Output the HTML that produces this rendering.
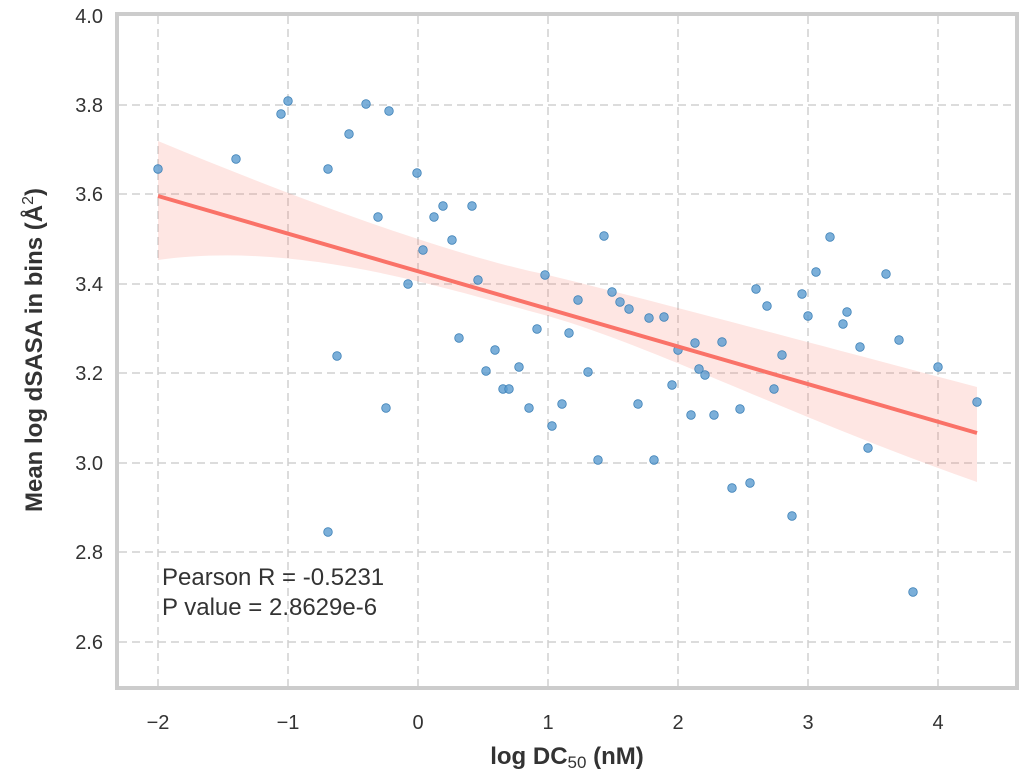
<!DOCTYPE html>
<html><head><meta charset="utf-8"><style>body{margin:0;background:#fff}svg{display:block}text{font-family:"Liberation Sans","DejaVu Sans",sans-serif}</style></head>
<body>
<svg width="1024" height="776" viewBox="0 0 1024 776">
<rect x="0" y="0" width="1024" height="776" fill="#fff"/>
<g stroke="#d0d0d0" stroke-width="1.5" stroke-dasharray="8,5">
<line x1="158" y1="16" x2="158" y2="686"/><line x1="288" y1="16" x2="288" y2="686"/><line x1="418" y1="16" x2="418" y2="686"/><line x1="548" y1="16" x2="548" y2="686"/><line x1="678" y1="16" x2="678" y2="686"/><line x1="808" y1="16" x2="808" y2="686"/><line x1="938" y1="16" x2="938" y2="686"/>
<line x1="119" y1="105" x2="1015" y2="105"/><line x1="119" y1="194" x2="1015" y2="194"/><line x1="119" y1="284" x2="1015" y2="284"/><line x1="119" y1="373" x2="1015" y2="373"/><line x1="119" y1="463" x2="1015" y2="463"/><line x1="119" y1="552" x2="1015" y2="552"/><line x1="119" y1="642" x2="1015" y2="642"/>
</g>
<path d="M158,141 C300,200 450,255 548,275 C650,300 800,340 977,387 L977,482 C800,420 650,345 548,316 C450,290 300,240 158,260 Z" fill="#fa8072" fill-opacity="0.2"/>
<g fill="#5a9bcf" fill-opacity="0.8" stroke="#3f82b8" stroke-width="0.8">
<circle cx="158" cy="169" r="4.3"/><circle cx="236" cy="159" r="4.3"/><circle cx="281" cy="114" r="4.3"/><circle cx="288" cy="101" r="4.3"/><circle cx="328" cy="169" r="4.3"/><circle cx="328" cy="532" r="4.3"/><circle cx="337" cy="356" r="4.3"/><circle cx="349" cy="134" r="4.3"/><circle cx="366" cy="104" r="4.3"/><circle cx="378" cy="217" r="4.3"/><circle cx="386" cy="408" r="4.3"/><circle cx="389" cy="111" r="4.3"/><circle cx="408" cy="284" r="4.3"/><circle cx="417" cy="173" r="4.3"/><circle cx="423" cy="250" r="4.3"/><circle cx="434" cy="217" r="4.3"/><circle cx="443" cy="206" r="4.3"/><circle cx="452" cy="240" r="4.3"/><circle cx="459" cy="338" r="4.3"/><circle cx="472" cy="206" r="4.3"/><circle cx="478" cy="280" r="4.3"/><circle cx="486" cy="371" r="4.3"/><circle cx="495" cy="350" r="4.3"/><circle cx="503" cy="389" r="4.3"/><circle cx="509" cy="389" r="4.3"/><circle cx="519" cy="367" r="4.3"/><circle cx="529" cy="408" r="4.3"/><circle cx="537" cy="329" r="4.3"/><circle cx="545" cy="275" r="4.3"/><circle cx="552" cy="426" r="4.3"/><circle cx="562" cy="404" r="4.3"/><circle cx="569" cy="333" r="4.3"/><circle cx="578" cy="300" r="4.3"/><circle cx="588" cy="372" r="4.3"/><circle cx="598" cy="460" r="4.3"/><circle cx="604" cy="236" r="4.3"/><circle cx="612" cy="292" r="4.3"/><circle cx="620" cy="302" r="4.3"/><circle cx="629" cy="309" r="4.3"/><circle cx="638" cy="404" r="4.3"/><circle cx="649" cy="318" r="4.3"/><circle cx="654" cy="460" r="4.3"/><circle cx="664" cy="317" r="4.3"/><circle cx="672" cy="385" r="4.3"/><circle cx="678" cy="350" r="4.3"/><circle cx="691" cy="415" r="4.3"/><circle cx="695" cy="343" r="4.3"/><circle cx="699" cy="369" r="4.3"/><circle cx="705" cy="375" r="4.3"/><circle cx="714" cy="415" r="4.3"/><circle cx="722" cy="342" r="4.3"/><circle cx="732" cy="488" r="4.3"/><circle cx="740" cy="409" r="4.3"/><circle cx="750" cy="483" r="4.3"/><circle cx="756" cy="289" r="4.3"/><circle cx="767" cy="306" r="4.3"/><circle cx="774" cy="389" r="4.3"/><circle cx="782" cy="355" r="4.3"/><circle cx="792" cy="516" r="4.3"/><circle cx="802" cy="294" r="4.3"/><circle cx="808" cy="316" r="4.3"/><circle cx="816" cy="272" r="4.3"/><circle cx="830" cy="237" r="4.3"/><circle cx="843" cy="324" r="4.3"/><circle cx="847" cy="312" r="4.3"/><circle cx="860" cy="347" r="4.3"/><circle cx="868" cy="448" r="4.3"/><circle cx="886" cy="274" r="4.3"/><circle cx="899" cy="340" r="4.3"/><circle cx="913" cy="592" r="4.3"/><circle cx="938" cy="367" r="4.3"/><circle cx="977" cy="402" r="4.3"/>
</g>
<line x1="158" y1="196" x2="977" y2="433" stroke="#fa7268" stroke-width="4"/>
<rect x="117" y="14" width="900" height="674" fill="none" stroke="#cccccc" stroke-width="4"/>
<g font-size="20" fill="#333" text-anchor="middle">
<text x="158" y="729">−2</text><text x="288" y="729">−1</text><text x="418" y="729">0</text><text x="548" y="729">1</text><text x="678" y="729">2</text><text x="808" y="729">3</text><text x="938" y="729">4</text>
</g>
<g font-size="20" fill="#333" text-anchor="end">
<text x="103" y="23">4.0</text><text x="103" y="112">3.8</text><text x="103" y="201">3.6</text><text x="103" y="291">3.4</text><text x="103" y="380">3.2</text><text x="103" y="470">3.0</text><text x="103" y="559">2.8</text><text x="103" y="649">2.6</text>
</g>
<text x="567" y="764" font-size="24" font-weight="bold" fill="#333" text-anchor="middle">log DC<tspan font-size="17" font-weight="normal" dy="4">50</tspan><tspan dy="-4"> (nM)</tspan></text>
<text transform="translate(42,350) rotate(-90)" font-size="24" font-weight="bold" fill="#333" text-anchor="middle">Mean log dSASA in bins (Å<tspan font-size="16" font-weight="normal" dy="-9">2</tspan><tspan dy="9">)</tspan></text>
<text x="162" y="585" font-size="24" fill="#333">Pearson R = -0.5231</text>
<text x="162" y="615" font-size="24" fill="#333">P value = 2.8629e-6</text>
</svg>
</body></html>
